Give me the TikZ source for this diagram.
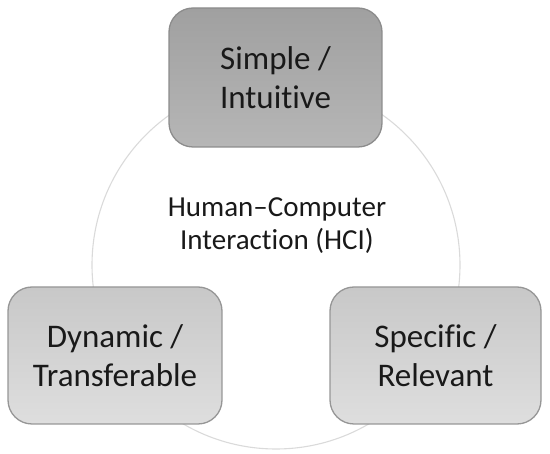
\documentclass[tikz,border=0pt]{standalone}
\usepackage{fontspec}
\setmainfont{Carlito}[Ligatures={NoCommon}]
\definecolor{ringcol}{RGB}{218,218,218}
\definecolor{darktop}{RGB}{160,160,160}
\definecolor{darkbot}{RGB}{182,182,182}
\definecolor{darkline}{RGB}{140,140,140}
\definecolor{lighttop}{RGB}{200,200,200}
\definecolor{lightbot}{RGB}{222,222,222}
\definecolor{lightline}{RGB}{150,150,150}
\definecolor{txt}{RGB}{25,25,25}
\begin{document}
\begin{tikzpicture}[x=1pt,y=-1pt,
  boxbase/.style={rounded corners=24pt, line width=1.3pt, minimum height=137pt,
    align=center, inner sep=0pt, text=txt, font=\fontsize{33}{39}\selectfont},
  darkbox/.style={boxbase, draw=darkline, top color=darktop, bottom color=darkbot},
  lightbox/.style={boxbase, draw=lightline, top color=lighttop, bottom color=lightbot},
  ring/.style={draw=ringcol, line width=1.1pt},
  centertext/.style={align=center, inner sep=0pt, text=txt, font=\fontsize{29}{33}\selectfont}]
\useasboundingbox (0,0) rectangle (550,454);
\draw[ring] (276,265) circle[radius=184pt];
\node[darkbox, minimum width=213pt, minimum height=139pt] (simple) at (275.5,77.5) {Simple /\\Intuitive};
\node[lightbox, minimum width=214pt] (dynamic) at (115,355.5) {Dynamic /\\Transferable};
\node[lightbox, minimum width=211pt] (specific) at (435.5,355.5) {Specific /\\Relevant};
\node[centertext] (hci) at (277,226) {Human–Computer\\ Interaction (HCI)};
\end{tikzpicture}
\end{document}
